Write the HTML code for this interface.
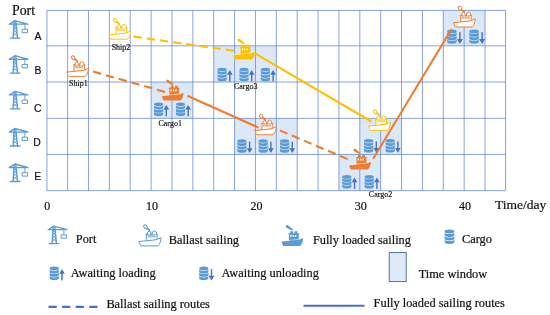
<!DOCTYPE html>
<html lang="en"><head><meta charset="utf-8"><title>Ship routing time windows</title>
<style>html,body{margin:0;padding:0;background:#fff}body{width:550px;height:315px;overflow:hidden}svg{display:block}.s{font-family:"Liberation Serif","Times New Roman",serif;fill:#111;stroke:#111;stroke-width:0.2}.b{stroke-width:0.15}.a{font-family:"Liberation Sans",Arial,sans-serif;fill:#111;stroke:#111;stroke-width:0.2}</style></head><body>
<svg width="550" height="315" viewBox="0 0 550 315">
<defs>
<g id="crane" fill="none" stroke-linecap="round" stroke-linejoin="round"><path d="M0.9,4.3 L19.6,4.3 M1.2,4.1 L6.6,0.7 L19.4,4.2" stroke-width="1.3"/><path d="M4.8,18 L5.9,1.2 M9.2,18 L7.5,1.2" stroke-width="1.4"/><path d="M5.7,4 L8,7 L5.3,10 L8.6,13 L5,16 M7.7,4 L5.5,7 L8.3,10 L5.1,13 L8.9,16" stroke-width="0.75"/><path d="M2,18.2 L11.7,18.2" stroke-width="1.3"/><path d="M16.6,4.3 L16.6,9.3" stroke-width="0.9"/><rect x="14.2" y="9.4" width="5.1" height="3.4" stroke-width="1" fill="#fff"/></g>
<g id="shipo" stroke-linejoin="round" stroke-linecap="round" stroke-width="1"><path d="M8,3.4 L10.8,5.5 L10.8,7" stroke-width="1.7" fill="none"/><ellipse cx="6.9" cy="2.3" rx="1.5" ry="2.2" transform="rotate(-42 6.9 2.3)" fill="#fff" stroke-width="1"/><path d="M7.7,16.4 L7.7,9.7 L18.4,9.7 L18.4,15 Z" fill="#fff"/><path d="M7.1,9.7 L8.9,9.7 L8.9,7.7 L10.5,6.5 L12.1,7.7 L12.1,9.7 L13.7,9.7 L13.7,7.5 L15.7,6.3 L17.7,7.5 L17.7,9.7 L19,9.7" fill="#fff"/><path d="M9.5,10.9 h1.5 v1.6 h-1.5 z M12.3,10.9 h1.5 v1.6 h-1.5 z M15.1,10.9 h1.5 v1.6 h-1.5 z" fill="none" stroke-width="0.7"/><path d="M0.6,17 L17,15.3 L22.5,13.2 C22.4,16.8 21.2,19.8 19.2,21.4 L2.2,21.4 C1.3,20.2 0.8,18.8 0.6,17 Z" fill="#fff"/></g>
<g id="shipf" stroke="none"><path d="M4.5,1.8 C4.3,0.6 5.7,0.1 6.8,0.9 L11.7,4.7 L10.9,5.9 L6.3,3.8 C5.3,3.3 4.7,2.8 4.5,1.8 Z"/><path d="M7,8.6 L8.9,8.6 L8.9,6.6 L11.8,6.6 L11.8,8.6 L13.1,8.6 L13.1,6.6 L16,6.6 L16,8.6 L17.9,8.6 L17.9,9.4 L17.4,9.4 L17.4,16 L7.5,16.8 L7.5,9.4 L7,9.4 Z"/><path d="M8.7,10.3 h1.4 v1.8 h-1.4 z M11.1,10.3 h1.4 v1.8 h-1.4 z M13.5,10.3 h1.4 v1.8 h-1.4 z" fill="#fff"/><path d="M0.2,16.6 L16.6,15 L21.8,13.2" stroke="#fff" stroke-opacity="0.75" stroke-width="0.8" fill="none"/><path d="M0.3,16.9 L16.8,15.5 L21.8,13.5 C21.7,16.9 20.6,19.8 18.8,21.3 L1.9,21.3 C1,20 0.5,18.7 0.3,16.9 Z"/></g>
<g id="cargo" fill="#5b9bd5"><ellipse cx="4.6" cy="1.8" rx="4.6" ry="1.8"/><path d="M0,2.40 A4.6,1.8 0 0 0 9.2,2.40 L9.2,5.10 A4.6,1.8 0 0 1 0,5.10 Z"/><path d="M0,5.70 A4.6,1.8 0 0 0 9.2,5.70 L9.2,8.40 A4.6,1.8 0 0 1 0,8.40 Z"/><path d="M0,9.00 A4.6,1.8 0 0 0 9.2,9.00 L9.2,11.70 A4.6,1.8 0 0 1 0,11.70 Z"/></g>
<g id="aup" fill="#4472c4"><rect x="-0.7" y="3" width="1.4" height="8.4"/><path d="M0,0 L2.8,4.7 L-2.8,4.7 Z"/></g>
<g id="adn" fill="#4472c4"><rect x="-0.7" y="0" width="1.4" height="8.4"/><path d="M0,11.4 L2.8,6.7 L-2.8,6.7 Z"/></g>
</defs>
<rect x="213.71" y="45.83" width="62.61" height="36.19" fill="#dde8f6"/>
<rect x="151.10" y="82.02" width="41.74" height="36.33" fill="#dde8f6"/>
<rect x="234.58" y="118.35" width="62.61" height="36.10" fill="#dde8f6"/>
<rect x="359.80" y="118.35" width="41.74" height="36.10" fill="#dde8f6"/>
<rect x="338.93" y="154.45" width="41.74" height="36.20" fill="#dde8f6"/>
<rect x="443.28" y="10.38" width="41.74" height="35.45" fill="#dde8f6"/>
<path d="M46.95,10.38 V190.65 M67.62,10.38 V190.65 M88.49,10.38 V190.65 M109.36,10.38 V190.65 M130.23,10.38 V190.65 M151.10,10.38 V190.65 M171.97,10.38 V190.65 M192.84,10.38 V190.65 M213.71,10.38 V190.65 M234.58,10.38 V190.65 M255.45,10.38 V190.65 M276.32,10.38 V190.65 M297.19,10.38 V190.65 M318.06,10.38 V190.65 M338.93,10.38 V190.65 M359.80,10.38 V190.65 M380.67,10.38 V190.65 M401.54,10.38 V190.65 M422.41,10.38 V190.65 M443.28,10.38 V190.65 M464.15,10.38 V190.65 M485.02,10.38 V190.65 M505.55,10.38 V190.65 M46.95,10.38 H505.55 M46.95,45.83 H505.55 M46.95,82.02 H505.55 M46.95,118.35 H505.55 M46.95,154.45 H505.55 M46.95,190.65 H505.55 " fill="none" stroke="#688cd6" stroke-width="0.8"/>
<g transform="translate(217.50,67.70) scale(1.000)"><use href="#cargo"/><use href="#aup" x="12.3" y="2.4"/></g>
<g transform="translate(239.40,67.70) scale(1.000)"><use href="#cargo"/><use href="#aup" x="12.3" y="2.4"/></g>
<g transform="translate(260.80,67.70) scale(1.000)"><use href="#cargo"/><use href="#aup" x="12.3" y="2.4"/></g>
<g transform="translate(154.00,102.50) scale(1.000)"><use href="#cargo"/><use href="#aup" x="12.3" y="2.4"/></g>
<g transform="translate(175.90,102.50) scale(1.000)"><use href="#cargo"/><use href="#aup" x="12.3" y="2.4"/></g>
<g transform="translate(237.30,139.20) scale(1.000)"><use href="#cargo"/><use href="#adn" x="12.3" y="2.4"/></g>
<g transform="translate(258.60,139.20) scale(1.000)"><use href="#cargo"/><use href="#adn" x="12.3" y="2.4"/></g>
<g transform="translate(280.00,139.20) scale(1.000)"><use href="#cargo"/><use href="#adn" x="12.3" y="2.4"/></g>
<g transform="translate(364.00,139.00) scale(1.000)"><use href="#cargo"/><use href="#adn" x="12.3" y="2.4"/></g>
<g transform="translate(385.60,139.00) scale(1.000)"><use href="#cargo"/><use href="#adn" x="12.3" y="2.4"/></g>
<g transform="translate(342.20,175.10) scale(1.000)"><use href="#cargo"/><use href="#aup" x="12.3" y="2.4"/></g>
<g transform="translate(364.60,175.10) scale(1.000)"><use href="#cargo"/><use href="#aup" x="12.3" y="2.4"/></g>
<g transform="translate(447.10,29.60) scale(1.040)"><use href="#cargo"/><use href="#adn" x="12.3" y="2.4"/></g>
<g transform="translate(469.30,29.60) scale(1.040)"><use href="#cargo"/><use href="#adn" x="12.3" y="2.4"/></g>
<line x1="93.0" y1="71.6" x2="168.0" y2="92.8" stroke="#ed7d31" stroke-width="2.1" stroke-dasharray="8.4 4.9"/>
<line x1="187.3" y1="95.8" x2="258.5" y2="127.6" stroke="#ed7d31" stroke-width="2.1"/>
<line x1="279.8" y1="130.4" x2="350.0" y2="160.1" stroke="#ed7d31" stroke-width="2.1" stroke-dasharray="8.3 4.8"/>
<line x1="373.2" y1="158.8" x2="451.6" y2="29.0" stroke="#ed7d31" stroke-width="2.1"/>
<line x1="133.5" y1="36.6" x2="236.0" y2="51.1" stroke="#ffc000" stroke-width="2.1" stroke-dasharray="8.4 4.9"/>
<line x1="255.0" y1="53.4" x2="371.3" y2="121.5" stroke="#ffc000" stroke-width="2.1"/>
<use href="#shipo" transform="translate(108.60,18.20) scale(0.980)" stroke="#ffc000" fill="#ffc000"/>
<use href="#shipo" transform="translate(66.50,55.40) scale(0.980)" stroke="#ed7d31" fill="#ed7d31"/>
<use href="#shipf" transform="translate(161.80,79.20) scale(1.000)" stroke="#ed7d31" fill="#ed7d31"/>
<use href="#shipf" transform="translate(233.00,38.20) scale(1.000)" stroke="#ffc000" fill="#ffc000"/>
<use href="#shipo" transform="translate(254.60,114.20) scale(0.960)" stroke="#ed7d31" fill="#ed7d31"/>
<use href="#shipo" transform="translate(368.40,109.40) scale(0.980)" stroke="#ffc000" fill="#ffc000"/>
<use href="#shipf" transform="translate(349.00,148.30) scale(1.000)" stroke="#ed7d31" fill="#ed7d31"/>
<use href="#shipo" transform="translate(453.20,6.00) scale(0.980)" stroke="#ed7d31" fill="#ed7d31"/>
<text class="s b" x="121.0" y="49.5" font-size="8" text-anchor="middle">Ship2</text>
<text class="s b" x="78.3" y="85.6" font-size="8" text-anchor="middle">Ship1</text>
<text class="s b" x="170.2" y="125.6" font-size="8" text-anchor="middle">Cargo1</text>
<text class="s b" x="245.7" y="89.3" font-size="8" text-anchor="middle">Cargo3</text>
<text class="s b" x="380.5" y="197.0" font-size="8" text-anchor="middle">Cargo2</text>
<text class="s" x="12.0" y="14.7" font-size="13.8">Port</text>
<use href="#crane" x="8.3" y="19.9" stroke="#5b9bd5"/>
<text class="a" x="34.6" y="39.8" font-size="10.4">A</text>
<use href="#crane" x="8.3" y="55.0" stroke="#5b9bd5"/>
<text class="a" x="34.5" y="73.9" font-size="10.4">B</text>
<use href="#crane" x="8.3" y="90.6" stroke="#5b9bd5"/>
<text class="a" x="34.0" y="111.7" font-size="10.4">C</text>
<use href="#crane" x="8.3" y="127.8" stroke="#5b9bd5"/>
<text class="a" x="33.2" y="145.6" font-size="10.4">D</text>
<use href="#crane" x="8.3" y="163.3" stroke="#5b9bd5"/>
<text class="a" x="34.3" y="180.0" font-size="10.4">E</text>
<text class="s" x="47.2" y="209.9" font-size="12" text-anchor="middle">0</text>
<text class="s" x="152.0" y="209.9" font-size="12" text-anchor="middle">10</text>
<text class="s" x="256.4" y="209.9" font-size="12" text-anchor="middle">20</text>
<text class="s" x="360.7" y="209.9" font-size="12" text-anchor="middle">30</text>
<text class="s" x="465.1" y="209.9" font-size="12" text-anchor="middle">40</text>
<text class="s" x="495.0" y="209.0" font-size="13.5">Time/day</text>
<use href="#crane" x="47.3" y="225.4" stroke="#5b9bd5"/>
<text class="s" x="75.8" y="242.5" font-size="12.35">Port</text>
<use href="#shipo" transform="translate(138.60,224.50) scale(1.000)" stroke="#5b9bd5" fill="#5b9bd5"/>
<text class="s" x="168.7" y="243.5" font-size="12.35">Ballast sailing</text>
<use href="#shipf" transform="translate(281.40,224.60) scale(1.000)" stroke="#5b9bd5" fill="#5b9bd5"/>
<text class="s" x="312.9" y="243.5" font-size="12.35">Fully loaded sailing</text>
<use href="#cargo" transform="translate(444.6,229.6) scale(1.06)"/>
<text class="s" x="462.0" y="242.8" font-size="12.35">Cargo</text>
<g transform="translate(49.70,266.60) scale(1.000)"><use href="#cargo"/><use href="#aup" x="12.3" y="2.4"/></g>
<text class="s" x="70.7" y="277.3" font-size="12.35">Awaiting loading</text>
<g transform="translate(199.20,266.60) scale(1.000)"><use href="#cargo"/><use href="#adn" x="12.3" y="2.4"/></g>
<text class="s" x="221.6" y="277.3" font-size="12.35">Awaiting unloading</text>
<rect x="389.2" y="252.6" width="17" height="29" fill="#deebf7" stroke="#41639f" stroke-width="0.9"/>
<text class="s" x="418.7" y="277.8" font-size="12.35">Time window</text>
<line x1="48.5" y1="306.9" x2="98" y2="306.9" stroke="#4472c4" stroke-width="2.2" stroke-dasharray="8.2 5.4"/>
<text class="s" x="106.4" y="307.5" font-size="12.35">Ballast sailing routes</text>
<line x1="303.5" y1="305.8" x2="364.5" y2="305.8" stroke="#4472c4" stroke-width="2"/>
<text class="s" x="373.6" y="306.9" font-size="12.35">Fully loaded sailing routes</text>
</svg></body></html>
